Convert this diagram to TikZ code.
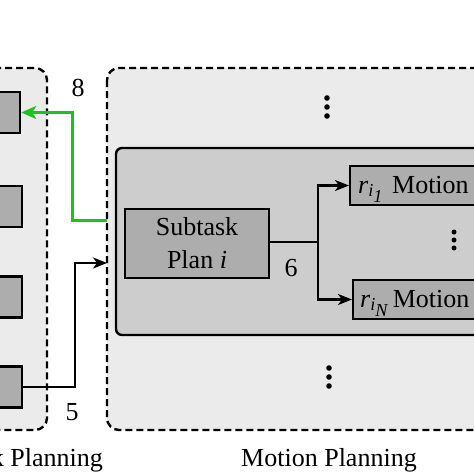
\documentclass[tikz,border=0pt]{standalone}
\usepackage{amsmath}
\usepackage{fontspec}
\setmainfont{Liberation Serif}
\usetikzlibrary{arrows.meta,calc}
\definecolor{framefill}{HTML}{EBEBEB}
\definecolor{innerfill}{HTML}{CDCDCD}
\definecolor{boxfill}{HTML}{ADADAD}
\definecolor{arrgreen}{HTML}{1FC01F}
\tikzset{
  frame/.style={draw=black, line width=2.4pt, dash pattern=on 7pt off 4pt, fill=framefill, rounded corners=12pt},
  innerbox/.style={draw=black, line width=2.4pt, fill=innerfill, rounded corners=6pt},
  pbox/.style={draw=black, line width=2.4pt, fill=boxfill, inner sep=0pt, font=\fontsize{26}{28}\selectfont},
  conn/.style={line width=2.4pt, -{Stealth[length=14pt,width=11pt,inset=4pt]}},
  gconn/.style={line width=3pt, draw=arrgreen, -{Stealth[length=15pt,width=13pt,inset=4pt]}},
  lbl/.style={font=\fontsize{26}{28}\selectfont, inner sep=0pt},
  dotfill/.style={fill=black}
}
\begin{document}
\begin{tikzpicture}[x=1pt,y=-1pt]
\useasboundingbox (0,0) rectangle (474,474);
\clip (0,0) rectangle (474,474);
\fill[white] (0,0) rectangle (474,474);
% frames
\draw[frame] (-80,68) rectangle (47,430);
\draw[frame] (107,68) rectangle (560,430);
\draw[innerbox] (116,148) rectangle (540,335);
% left boxes
\node[pbox, minimum width=70pt, minimum height=41pt] (t1) at (-15,112.5) {};
\node[pbox, minimum width=70pt, minimum height=41pt] (t2) at (-13,206.5) {};
\node[pbox, minimum width=70pt, minimum height=41pt] (t3) at (-13,297) {};
\node[pbox, minimum width=70pt, minimum height=41pt] (t4) at (-13,387) {};
% subtask
\node[pbox, minimum width=144pt, minimum height=69pt, align=center] (sp) at (197,243.5) {Subtask\\[5pt]Plan \textit{i}};
% robot planners
\node[pbox, minimum width=200pt, minimum height=39pt, anchor=west] (r1) at (349,185.5) {};
\node[pbox, minimum width=200pt, minimum height=39pt, anchor=west] (rN) at (352,299.5) {};
\node[lbl, anchor=base west] (r1t) at (358,193) {$\textit{r}_{\textit{i}_{\scriptstyle\textit{1}}}$\,\,Motion};
\node[lbl, anchor=base west] (rNt) at (360,307) {$\textit{r}_{\textit{i}_{\scriptstyle\textit{N}}}$\,Motion};
% coordinates
\coordinate (mpin5) at (107,263);
\coordinate (mpout8) at (107,220);
\coordinate (j) at (318,242);
% connectors
\draw[gconn] (mpout8) -| (72,112.5) -- (t1.east);
\draw[conn] (t4.east) -| (75,263) -- (mpin5);
\draw[line width=2.4pt] (sp.east |- j) -- (j);
\draw[conn] (j) |- (r1.west);
\draw[conn] (j) |- (rN.west);
% labels
\node[lbl] (l8) at (78,88) {8};
\node[lbl] (l5) at (72,412) {5};
\node[lbl] (l6) at (291,268) {6};
\node[lbl, anchor=east] (ltp) at (103,460) {Task Planning};
\node[lbl] (lmp) at (329,460) {Motion Planning};
% dots
\foreach \y in {98,107,116} \fill[dotfill] (327,\y) circle (2.8pt);
\foreach \y in {232,240,248} \fill[dotfill] (454,\y) circle (2.5pt);
\foreach \y in {368,377,386} \fill[dotfill] (329,\y) circle (2.8pt);
\end{tikzpicture}
\end{document}
